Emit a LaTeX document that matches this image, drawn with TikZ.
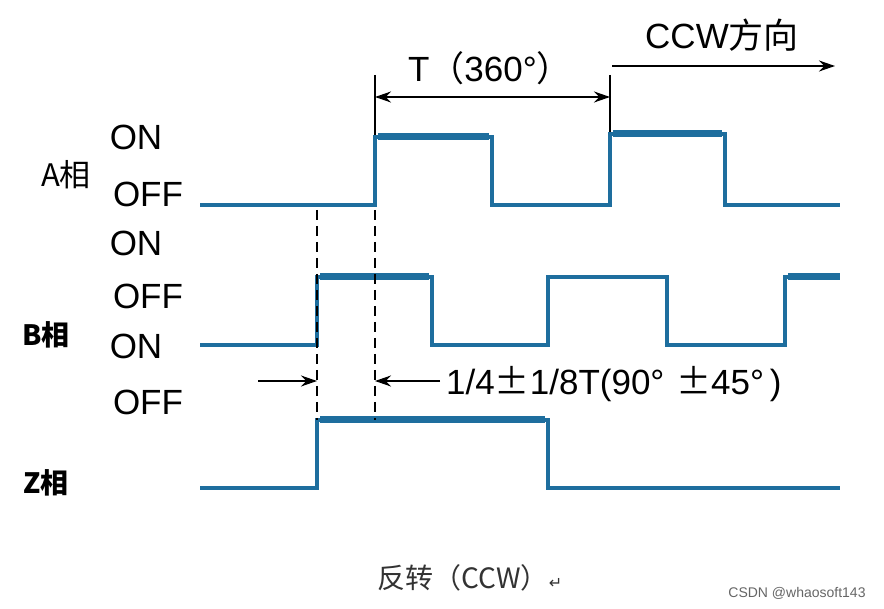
\documentclass[tikz,border=0pt]{standalone}
\usepackage{fontspec}
\setmainfont{Liberation Sans}
\newfontfamily\cjk{Noto Sans CJK SC}
\newfontfamily\dejavu{DejaVu Sans}
\usetikzlibrary{arrows.meta}
\definecolor{wave}{HTML}{1E6E9E}
\begin{document}
\begin{tikzpicture}[x=1pt,y=-1pt,
  wv/.style={wave,line width=3.5pt},
  lab/.style={font=\fontsize{35}{35}\selectfont,inner sep=0pt},
  clab/.style={font=\cjk\fontsize{31}{31}\selectfont,inner sep=0pt},
  dim/.style={line width=1.8pt,-{Stealth[length=16pt,width=11pt]}}]
\useasboundingbox (0,0) rectangle (884,609);
\fill[white] (0,0) rectangle (884,609);
% waveforms
\draw[wv] (200,205) -- (375,205) -- (375,137) -- (492,137) -- (492,205) -- (610,205) -- (610,134) -- (725,134) -- (725,205) -- (840,205);
\draw[wv,line width=7pt] (378,137) -- (489,137) (613,134) -- (722,134);
\draw[wv] (200,345) -- (317,345) -- (317,277) -- (432,277) -- (432,345) -- (548,345) -- (548,277) -- (667,277) -- (667,345) -- (785,345) -- (785,277) -- (840,277);
\draw[wv,line width=7pt] (320,277) -- (429,277) (788,277) -- (840,277);
\draw[wv] (200,488) -- (317,488) -- (317,420) -- (548,420) -- (548,488) -- (840,488);
\draw[wv,line width=7pt] (320,420) -- (545,420);
% dashed
\coordinate (d1a) at (317,210); \coordinate (d1b) at (317,420);
\coordinate (d2a) at (375,210); \coordinate (d2b) at (375,420);
\draw[line width=1.8pt,dash pattern=on 10pt off 6pt] (d1a) -- (d1b) (d2a) -- (d2b);
% T dimension
\coordinate (t1) at (375,75); \coordinate (t1b) at (375,135);
\coordinate (t2) at (610,75); \coordinate (t2b) at (610,132);
\draw[line width=1.8pt] (t1) -- (t1b) (t2) -- (t2b);
\draw[line width=1.8pt,{Stealth[length=16pt,width=11pt]}-{Stealth[length=16pt,width=11pt]}] (375,97) -- (610,97);
\node[lab] (T) at (490,68) {T{\cjk（}360°{\cjk）}};
% CCW arrow
\coordinate (c1) at (612,66); \coordinate (c2) at (835,66);
\draw[dim] (c1) -- (c2);
\node[lab] (ccw) at (722,35) {CCW{\cjk 方向}};
% phase arrows
\coordinate (p1) at (258,381); \coordinate (p2) at (317,381);
\coordinate (p3) at (440,381); \coordinate (p4) at (375,381);
\draw[dim] (p1) -- (p2);
\draw[dim] (p3) -- (p4);
\node[lab,anchor=west] (ph) at (446,384) {1/4{\cjk ±}1/8T(90°\,\,{\cjk ±}45°\,)};
% left labels
\node[clab] (A) at (66,175) {A相};
\node[lab] (on1) at (136,137) {ON};
\node[lab] (off1) at (148,194) {OFF};
\node[lab] (on2) at (136,243) {ON};
\node[lab] (off2) at (148,296) {OFF};
\node[clab,font=\cjk\bfseries\fontsize{28}{28}\selectfont] (B) at (46,335) {B相};
\node[lab] (on3) at (136,346) {ON};
\node[lab] (off3) at (148,402) {OFF};
\node[clab,font=\cjk\bfseries\fontsize{28}{28}\selectfont] (Z) at (46,483) {Z相};
\node[clab,text=black!80,font=\cjk\fontsize{28}{28}\selectfont] (cap) at (470,578) {反转（CCW）{\dejavu\fontsize{16}{16}\selectfont ↵}};
\node[text=black!60,font=\fontsize{14}{14}\selectfont,inner sep=0pt] (wm) at (797,593) {CSDN @whaosoft143};
\end{tikzpicture}
\end{document}
